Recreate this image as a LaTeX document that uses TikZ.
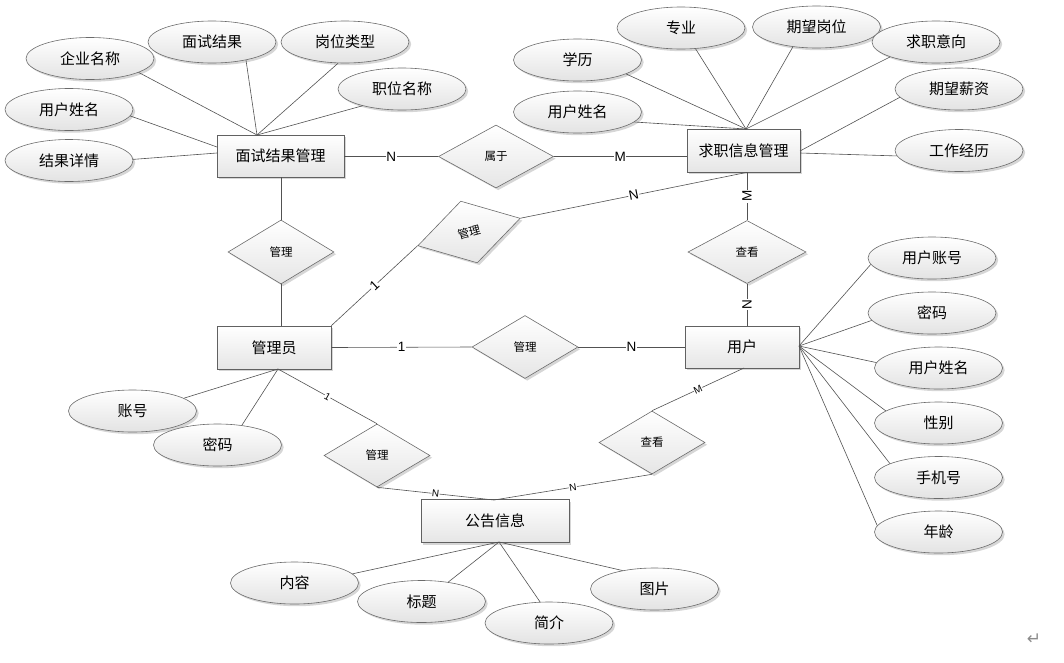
\documentclass[tikz,border=0pt]{standalone}
\usepackage{fontspec}
\setmainfont{Liberation Sans}
\newfontfamily\cjk{Noto Sans CJK SC}
\newfontfamily\symfont{DejaVu Sans}
\usetikzlibrary{shapes.geometric,shadows}
\begin{document}
\begin{tikzpicture}[x=1pt,y=-1pt,
  shadowed/.style={drop shadow={shadow xshift=2.2pt,shadow yshift=-2.2pt,opacity=0.16,fill=black}},
  conn/.style={draw=black!68,line width=0.6pt},
  attr/.style={ellipse,draw=black!58,line width=0.6pt,top color=white,bottom color=black!11,
    minimum width=128pt,minimum height=42pt,inner sep=0pt,shadowed,
    font=\cjk\fontsize{15}{15}\selectfont},
  ent/.style={rectangle,draw=black!62,line width=0.7pt,top color=white,bottom color=black!10,
    inner sep=0pt,shadowed,font=\cjk\fontsize{15}{15}\selectfont},
  rel/.style={diamond,draw=black!58,line width=0.6pt,top color=white,bottom color=black!10,
    minimum width=106pt,minimum height=63pt,inner sep=0pt,aspect=1.7,shadowed,
    font=\cjk\fontsize{11.5}{11.5}\selectfont},
  lab/.style={fill=white,inner sep=0.6pt,font=\fontsize{13.5}{13.5}\selectfont},
  slab/.style={fill=white,inner sep=0.4pt,font=\fontsize{10}{10}\selectfont}
]
\useasboundingbox (0,0) rectangle (1064,662);

% entities
\node[ent,minimum width=127pt,minimum height=42pt] (r1) at (280.5,156) {面试结果管理};
\node[ent,minimum width=113pt,minimum height=43pt] (r2) at (743.5,150.5) {求职信息管理};
\node[ent,minimum width=114pt,minimum height=43pt] (adm) at (274,347.5) {管理员};
\node[ent,minimum width=114pt,minimum height=42pt] (u) at (742,347) {用户};
\node[ent,minimum width=148pt,minimum height=43pt] (gg) at (495,521) {公告信息};

% relationships
\node[rel,minimum width=115pt] (shu) at (496,156.5) {属于};
\node[rel,minimum height=64pt] (gl1) at (281,252) {管理};
\node[rel,minimum height=64pt,rotate=15] (gl2) at (469,232) {管理};
\node[rel,minimum width=118pt] (cha1) at (747,252) {查看};
\node[rel] (gl3) at (525,347) {管理};
\node[rel] (gl4) at (377,455.5) {管理};
\node[rel] (cha2) at (652,442.5) {查看};

% attributes
\node[attr] (a1) at (90,58.5) {企业名称};
\node[attr] (a2) at (212,42) {面试结果};
\node[attr] (a3) at (345,42) {岗位类型};
\node[attr] (a4) at (402,89) {职位名称};
\node[attr] (a5) at (69,109.5) {用户姓名};
\node[attr] (a6) at (69,160.5) {结果详情};
\node[attr] (b2) at (681,28) {专业};
\node[attr] (b3) at (816.5,27) {期望岗位};
\node[attr] (b4) at (936,42) {求职意向};
\node[attr] (b1) at (577.5,60) {学历};
\node[attr] (b5) at (577.5,112) {用户姓名};
\node[attr] (b6) at (959,89) {期望薪资};
\node[attr] (b7) at (959,150.5) {工作经历};
\node[attr] (c1) at (132.5,411) {账号};
\node[attr] (c2) at (217.5,445) {密码};
\node[attr] (d1) at (932,258) {用户账号};
\node[attr] (d2) at (932,313) {密码};
\node[attr] (d3) at (938.5,368) {用户姓名};
\node[attr] (d4) at (938.5,423) {性别};
\node[attr] (d5) at (938.5,477.5) {手机号};
\node[attr] (d6) at (938.5,532) {年龄};
\node[attr] (e1) at (294.5,583) {内容};
\node[attr] (e2) at (421.5,601.5) {标题};
\node[attr] (e3) at (549,623) {简介};
\node[attr] (e4) at (654.5,589) {图片};

% connection points on entity borders
\coordinate (p1) at (257,135);
\coordinate (p2) at (217,147);
\coordinate (p3) at (217,153);
\coordinate (q1) at (746,129);
\coordinate (q2) at (800,151);
\coordinate (q3) at (800,153);
\coordinate (s1) at (278,369);
\coordinate (t1) at (799,346);
\coordinate (g1) at (494,500);
\coordinate (g2) at (499,542);
\coordinate (u2) at (744,368);

% attribute lines
\foreach \n/\a in {a1/344,a2/332,a3/252,a4/203} \draw[conn] (\n.\a) -- (p1);
\draw[conn] (a5.354) -- (p2);
\draw[conn] (a6.1) -- (p3);
\foreach \n/\a in {b1/344,b2/305,b3/220,b4/198,b5/350} \draw[conn] (\n.\a) -- (q1);
\draw[conn] (b6.188) -- (q2);
\draw[conn] (b7.185) -- (q3);
\draw[conn] (c1.14) -- (s1);
\draw[conn] (c2.39) -- (s1);
\foreach \n/\a in {d1/186,d2/187,d3/175,d4/167,d5/164,d6/174} \draw[conn] (\n.\a) -- (t1);
\foreach \n/\a in {e1/9,e2/36,e3/113,e4/150} \draw[conn] (\n.\a) -- (g2);

% relationship lines
\draw[conn] (r1.east |- shu.west) -- node[lab] {N} (shu.west);
\draw[conn] (shu.east) -- node[lab] {M} (shu.east -| r2.west);
\draw[conn] (gl1.north |- r1.south) -- (gl1.north);
\draw[conn] (gl1.south) -- (gl1.south |- adm.north);
\draw[conn] (adm.north east) -- node[lab,sloped] {1} (gl2.west);
\draw[conn] (gl2.east) -- node[lab,sloped] {N} (cha1.north |- r2.south);
\draw[conn] (cha1.north |- r2.south) -- node[lab,rotate=90] {M} (cha1.north);
\draw[conn] (cha1.south) -- node[lab,rotate=90] {N} (cha1.south |- u.north);
\draw[conn] (adm.east) -- node[lab] {1} (gl3.west);
\draw[conn] (gl3.east) -- node[lab] {N} (u.west |- gl3.east);
\draw[conn] (s1) -- node[slab,sloped] {1} (gl4.north);
\draw[conn] (gl4.south) -- node[slab,sloped] {N} (g1);
\draw[conn] (g1) -- node[slab,sloped] {N} (cha2.south);
\draw[conn] (cha2.north) -- node[slab,sloped] {M} (u2);

\node[text=black!45,font=\symfont\fontsize{17}{17}\selectfont] (ret) at (1034,639) {↵};
\end{tikzpicture}
\end{document}
